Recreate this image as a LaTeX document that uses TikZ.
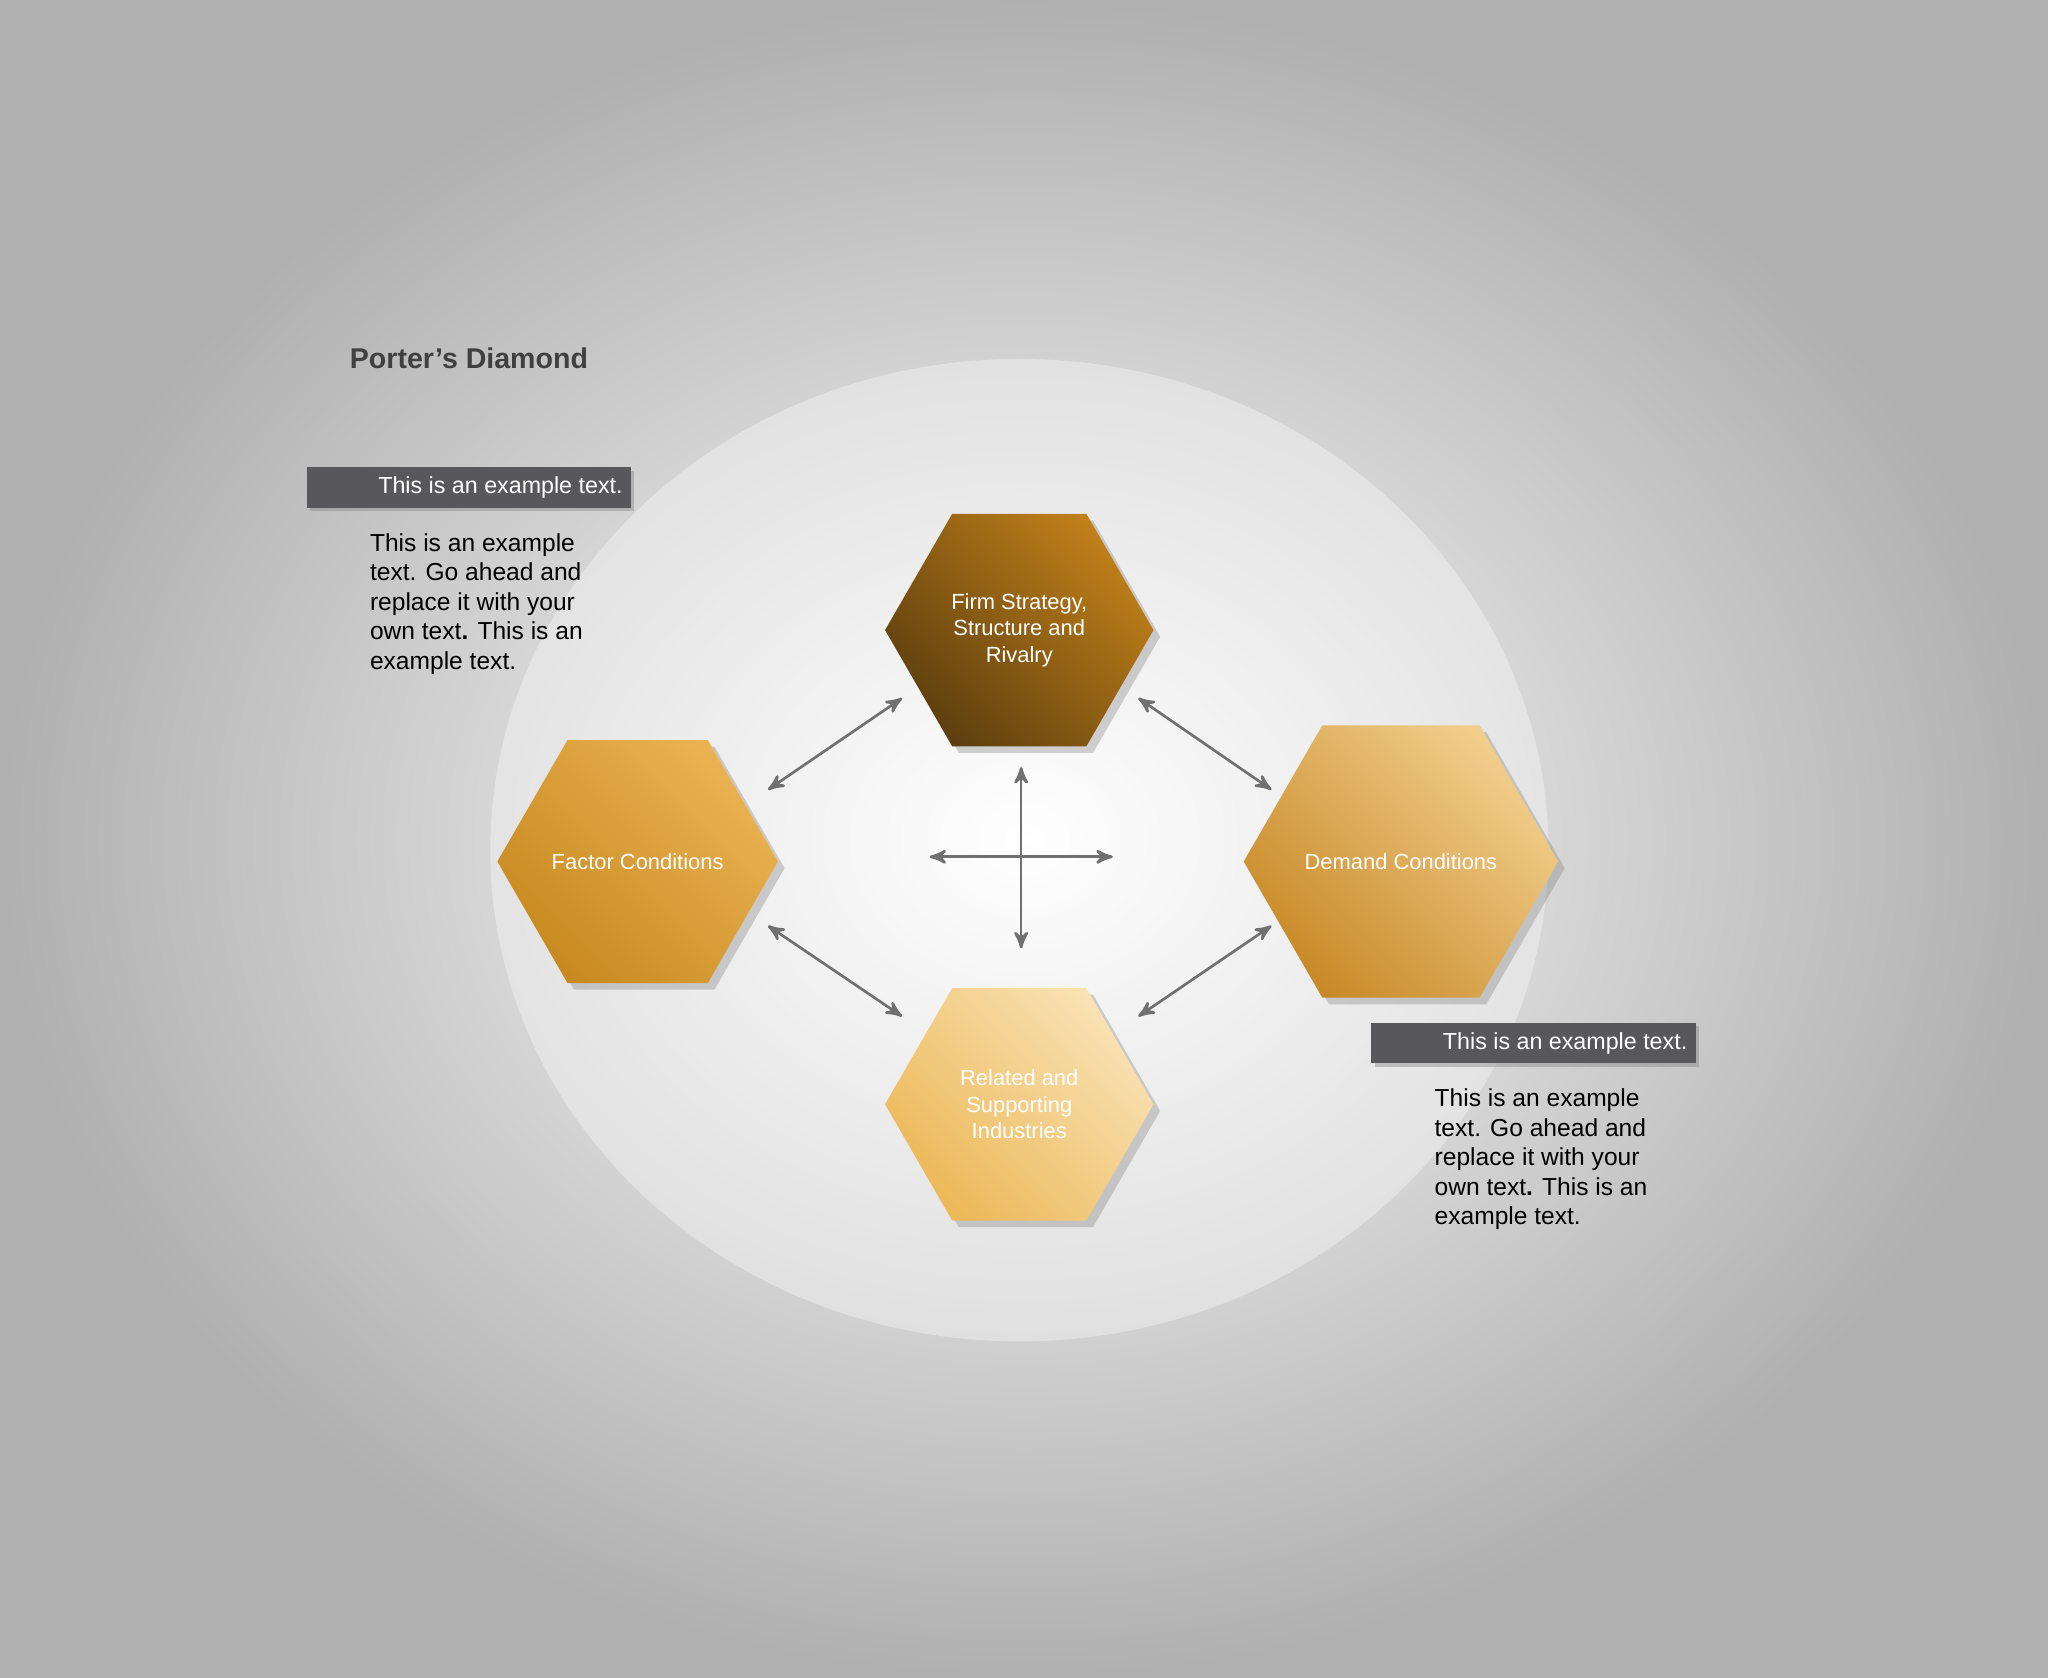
\documentclass[tikz,border=0pt]{standalone}
\usepackage{fontspec}
\setmainfont{Liberation Sans}
\usetikzlibrary{shapes.geometric, arrows, positioning, shadows, calc}
\definecolor{boxgray}{HTML}{58585A}
\definecolor{titlegray}{HTML}{404040}
\definecolor{arrowgray}{HTML}{707070}
\definecolor{firmA}{HTML}{5E3F0E}
\definecolor{firmB}{HTML}{C0801A}
\definecolor{factorA}{HTML}{C88A20}
\definecolor{factorB}{HTML}{EAB252}
\definecolor{demandA}{HTML}{C88A28}
\definecolor{demandB}{HTML}{F2CE8C}
\definecolor{relatedA}{HTML}{ECB858}
\definecolor{relatedB}{HTML}{F9E2B4}

\begin{document}
\begin{tikzpicture}[x=0.01cm, y=-0.01cm, >=stealth', font=\fontsize{6.6}{8}\selectfont]
  \tikzstyle{hexa} = [regular polygon, regular polygon sides=6, minimum size=2.84cm, inner sep=0pt,
    align=center, text=white, drop shadow={shadow xshift=2pt, shadow yshift=-2pt, opacity=0.35}]
  \tikzstyle{link} = [<->, arrowgray, thick]
  \tikzstyle{label} = [fill=boxgray, text=white, minimum width=3.43cm, minimum height=0.43cm,
    inner sep=0pt, font=\fontsize{7}{8}\selectfont, drop shadow={shadow xshift=1pt, shadow yshift=-1pt, opacity=0.4}]
  \tikzstyle{body} = [anchor=north west, align=left, inner sep=0pt, font=\fontsize{7.4}{8.9}\selectfont]

  % background
  \shade[inner color=white, outer color=gray!62] (-300,-300) rectangle (1868,1476);
  \useasboundingbox (0,0) rectangle (1568,1176);
  \fill[white, opacity=0.35] (779,600) ellipse (560 and 520);

  \node[anchor=west, text=titlegray, font=\bfseries\fontsize{8.6}{10}\selectfont] (title) at (58,79) {Porter’s Diamond};

  % hexagons
  \node[hexa, left color=firmA, right color=firmB, shading angle=135] (firm) at (779,367)
    {Firm Strategy,\\Structure and\\Rivalry};
  \node[hexa, left color=factorA, right color=factorB, shading angle=135] (factor) at (375,612)
    {Factor Conditions};
  \node[hexa, left color=demandA, right color=demandB, shading angle=135] (demand) at (1183,612)
    {Demand Conditions};
  \node[hexa, left color=relatedA, right color=relatedB, shading angle=135] (related) at (779,869)
    {Related and\\Supporting\\Industries};

  % connectors
  \coordinate (fl) at (655,439); \coordinate (lf) at (513,536);
  \coordinate (fr) at (905,439); \coordinate (rf) at (1046,536);
  \coordinate (lr) at (513,680); \coordinate (rl) at (655,776);
  \coordinate (dr) at (1046,680); \coordinate (rd) at (905,776);
  \coordinate (up) at (781,512); \coordinate (down) at (781,704);
  \coordinate (west) at (684,607); \coordinate (east) at (878,607);
  \draw[link] (fl) -- (lf);
  \draw[link] (fr) -- (rf);
  \draw[link] (lr) -- (rl);
  \draw[link] (dr) -- (rd);
  \draw[link] (up) -- (down);
  \draw[link] (west) -- (east);

  % text blocks
  \node[label, anchor=north west] (boxA) at (24,194) {\hspace*{0.67cm}This is an example text.\hfill};
  \node[body] (textA) at (91,264) {This is an example\\text. Go ahead and\\replace it with your\\own text\textbf{.} This is an\\example text.};
  \node[label, anchor=north west] (boxB) at (1151,782) {\hspace*{0.67cm}This is an example text.\hfill};
  \node[body] (textB) at (1218,852) {This is an example\\text. Go ahead and\\replace it with your\\own text\textbf{.} This is an\\example text.};
\end{tikzpicture}
\end{document}
